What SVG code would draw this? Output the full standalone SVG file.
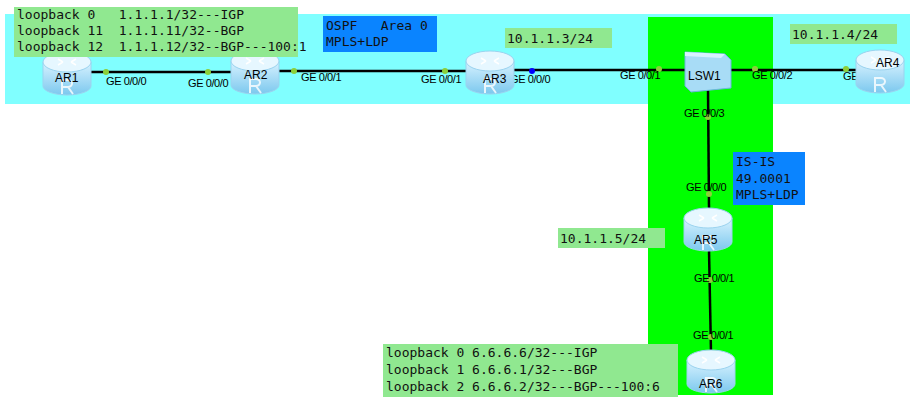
<svg xmlns="http://www.w3.org/2000/svg" width="920" height="405" viewBox="0 0 920 405">
<defs>
<style>
.mono{font-family:"DejaVu Sans Mono","Liberation Mono",monospace;font-size:13px;fill:#111;white-space:pre}
.port{font-family:"Liberation Sans",Arial,sans-serif;font-size:11px;fill:#000;letter-spacing:-0.4px}
.name{font-family:"Liberation Sans",Arial,sans-serif;font-size:12px;fill:#000}
.lbl{fill:#90e890}
.blue{fill:#0a84ff}
.link{stroke:#000;stroke-width:2.5}
.dot{fill:#8ccf3a}
</style>
<linearGradient id="rg" x1="0" y1="0" x2="0" y2="1"><stop offset="0" stop-color="#d8f2ff"/><stop offset="1" stop-color="#7cc8ee"/></linearGradient>
<g id="router">
<path d="M-24,-10 v24 a24,9 0 0 0 48,0 v-24 z" fill="url(#rg)" stroke="#9bd3ef"/>
<ellipse cx="0" cy="-10" rx="24" ry="10" fill="#e6f7ff" stroke="#9bd3ef"/>
<path d="M-9,-13 l5,3 M9,-13 l-5,3 M-9,-7 l5,-3 M9,-7 l-5,-3" stroke="#fff" stroke-width="1.5"/>
<path d="M-5,22 v-14 h6 a4,3.5 0 0 1 0,7 h-6 M1,15 l5,7" fill="none" stroke="#fff" stroke-width="2" opacity="0.8"/>
</g>
</defs>
<rect x="0" y="0" width="920" height="405" fill="#fff"/>
<rect x="5" y="14" width="905" height="90" fill="#80ffff"/>
<rect x="648" y="17" width="125" height="378" fill="#00ff00"/>
<g id="connectors">
<line class="link" x1="90" y1="72" x2="232" y2="72"/>
<line class="link" x1="278" y1="71" x2="466" y2="71"/>
<line class="link" x1="514" y1="70" x2="688" y2="70"/>
<line class="link" x1="728" y1="70" x2="858" y2="70"/>
<line class="link" x1="708" y1="88" x2="709" y2="208"/>
<line class="link" x1="709" y1="250" x2="711" y2="352"/>
<circle class="dot" cx="106" cy="72" r="3"/><circle class="dot" cx="208" cy="72" r="3"/>
<circle class="dot" cx="294" cy="71" r="3"/><circle class="dot" cx="445" cy="71" r="3"/>
<circle cx="532" cy="71" r="3" fill="#0000ff"/><circle class="dot" cx="659" cy="69" r="3"/>
<circle class="dot" cx="755" cy="69" r="3"/><circle class="dot" cx="846" cy="69" r="3"/>
<circle class="dot" cx="708" cy="117" r="3"/><circle class="dot" cx="709" cy="194" r="3"/>
<circle class="dot" cx="710" cy="280" r="3"/><circle class="dot" cx="711" cy="337" r="3"/>
<text class="port" x="106" y="85">GE 0/0/0</text>
<text class="port" x="188" y="87">GE 0/0/0</text>
<text class="port" x="301" y="81">GE 0/0/1</text>
<text class="port" x="421" y="83">GE 0/0/1</text>
<text class="port" x="510" y="83">GE 0/0/0</text>
<text class="port" x="620" y="79">GE 0/0/1</text>
<text class="port" x="752" y="79">GE 0/0/2</text>
<text class="port" x="843" y="80">GE 0/0/0</text>
<text class="port" x="684" y="117">GE 0/0/3</text>
<text class="port" x="686" y="191">GE 0/0/0</text>
<text class="port" x="694" y="282">GE 0/0/1</text>
<text class="port" x="693" y="339">GE 0/0/1</text>
</g>
<g id="AR1"><use href="#router" x="67" y="72"/><text class="name" x="55" y="82">AR1</text></g>
<g id="AR2"><use href="#router" x="255" y="71"/><text class="name" x="244" y="79">AR2</text></g>
<g id="AR3"><use href="#router" x="490" y="71"/><text class="name" x="483" y="83">AR3</text></g>
<g id="AR4"><use href="#router" x="880" y="70"/><text class="name" x="876" y="67">AR4</text></g>
<g id="AR5"><use href="#router" x="708" y="228"/><text class="name" x="694" y="244">AR5</text></g>
<g id="AR6"><use href="#router" x="711" y="370"/><text class="name" x="699" y="388">AR6</text></g>
<g id="LSW1">
<path d="M685,52 l40,2 l6,6 v28 l-40,4 l-6,-6 z" fill="#a8dcf6" stroke="#6bb6de"/>
<path d="M685,52 l40,2 l-4,4 l-36,-2 z" fill="#d8f2ff"/>
<text class="name" x="688" y="80">LSW1</text>
</g>
<g id="lb1"><rect class="lbl" x="14" y="7" width="284" height="50"/>
<text class="mono" x="17" y="19">loopback 0   1.1.1.1/32---IGP</text>
<text class="mono" x="17" y="35">loopback 11  1.1.1.11/32--BGP</text>
<text class="mono" x="17" y="51">loopback 12  1.1.1.12/32--BGP---100:1</text></g>
<g id="ospf"><rect class="blue" x="323" y="16" width="114" height="36"/>
<text class="mono" x="326" y="30">OSPF   Area 0</text><text class="mono" x="326" y="46">MPLS+LDP</text></g>
<g id="ip3"><rect class="lbl" x="505" y="28" width="107" height="20"/><text class="mono" x="507" y="43" font-size="15">10.1.1.3/24</text></g>
<g id="ip4"><rect class="lbl" x="790" y="24" width="107" height="20"/><text class="mono" x="792" y="39" font-size="15">10.1.1.4/24</text></g>
<g id="isis"><rect class="blue" x="733" y="152" width="72" height="53"/>
<text class="mono" x="736" y="166">IS-IS</text><text class="mono" x="736" y="183">49.0001</text><text class="mono" x="736" y="199">MPLS+LDP</text></g>
<g id="ip5"><rect class="lbl" x="558" y="228" width="107" height="20"/><text class="mono" x="560" y="243" font-size="15">10.1.1.5/24</text></g>
<g id="lb6"><rect class="lbl" x="383" y="344" width="295" height="53"/>
<text class="mono" x="386" y="357">loopback 0 6.6.6.6/32---IGP</text>
<text class="mono" x="386" y="374">loopback 1 6.6.6.1/32---BGP</text>
<text class="mono" x="386" y="391">loopback 2 6.6.6.2/32---BGP---100:6</text></g>
</svg>
